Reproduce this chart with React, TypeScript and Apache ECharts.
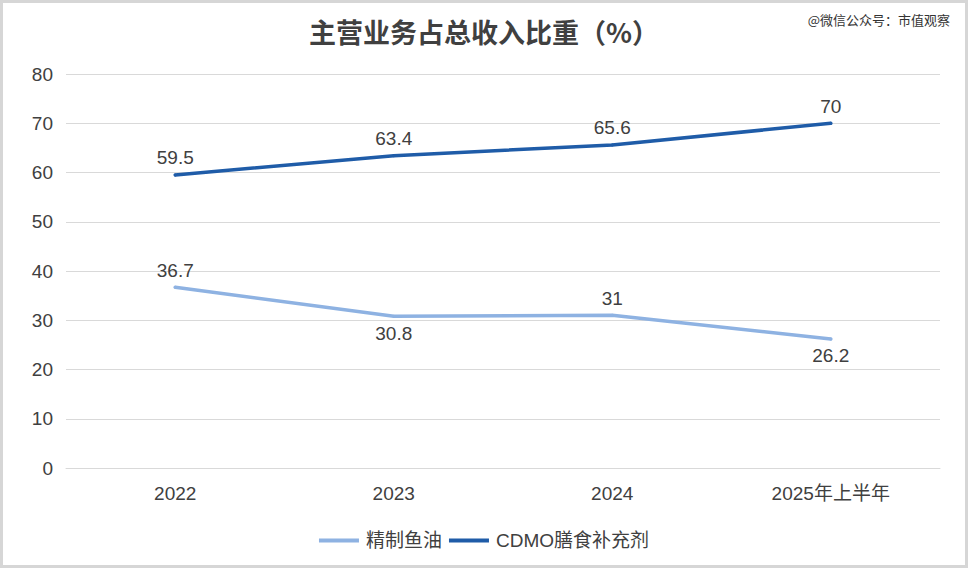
import React, { useEffect, useRef } from "react";
import * as echarts from "echarts";

const categories = ["2022", "2023", "2024", "2025年上半年"];
const fishOil = [36.7, 30.8, 31, 26.2];
const cdmo = [59.5, 63.4, 65.6, 70];
const fishOilLabelPos = ["top", "bottom", "top", "bottom"];
const yTicks = { min: 0, max: 80, interval: 10 };

export default function App() {
  const ref = useRef<HTMLDivElement>(null);
  useEffect(() => {
    if (!ref.current) return;
    const chart = echarts.init(ref.current, undefined, { renderer: "svg" });
    const font = "'Liberation Sans', 'Noto Sans CJK SC', sans-serif";
    const cjk = "'Noto Sans CJK SC', sans-serif";
    chart.setOption({
      animation: false,
      backgroundColor: "#ffffff",
      textStyle: { fontFamily: font },
      title: [
        {
          text: "主营业务占总收入比重（%）",
          left: "center",
          top: 10,
          textStyle: { fontSize: 27, fontWeight: "bold", color: "#404040", fontFamily: cjk },
        },
        {
          text: "@微信公众号：市值观察",
          right: 10,
          top: 5,
          textStyle: { fontSize: 13, fontWeight: "normal", color: "#333333", fontFamily: cjk },
        },
      ],
      grid: { left: 63, right: 25, top: 71, bottom: 97, containLabel: false },
      legend: {
        bottom: 10,
        left: "center",
        itemWidth: 40,
        itemHeight: 4,
        itemGap: 7,
        textStyle: { fontSize: 19, color: "#404040", fontFamily: font, padding: [0, 0, 0, 2] },
        icon: "rect",
        data: ["精制鱼油", "CDMO膳食补充剂"],
      },
      xAxis: {
        type: "category",
        data: categories,
        axisLine: { show: true, lineStyle: { color: "#d9d9d9", width: 1 } },
        axisTick: { show: false },
        axisLabel: { fontSize: 19, color: "#404040", margin: 16, fontFamily: font },
      },
      yAxis: {
        type: "value",
        min: yTicks.min,
        max: yTicks.max,
        interval: yTicks.interval,
        axisLine: { show: false },
        axisTick: { show: false },
        splitLine: { lineStyle: { color: "#d9d9d9", width: 1 } },
        axisLabel: { fontSize: 19, color: "#404040", margin: 13, fontFamily: font },
      },
      series: [
        {
          name: "精制鱼油",
          type: "line",
          data: fishOil.map((v, i) => ({
            value: v,
            label: { position: fishOilLabelPos[i] },
          })),
          color: "#8EB2E2",
          lineStyle: { width: 3.5, color: "#8EB2E2", cap: "round" },
          symbol: "circle",
          symbolSize: 3,
          showSymbol: true,
          itemStyle: { color: "#8EB2E2" },
          label: { show: true, fontSize: 19, color: "#404040", distance: 6, fontFamily: font },
        },
        {
          name: "CDMO膳食补充剂",
          type: "line",
          data: cdmo,
          color: "#1F5CA8",
          lineStyle: { width: 3.5, color: "#1F5CA8", cap: "round" },
          symbol: "circle",
          symbolSize: 3,
          showSymbol: true,
          itemStyle: { color: "#1F5CA8" },
          label: { show: true, position: "top", fontSize: 19, color: "#404040", distance: 6, fontFamily: font },
        },
      ],
    });
    return () => chart.dispose();
  }, []);
  return (
    <div
      ref={ref}
      style={{
        position: "absolute",
        left: 0,
        top: 0,
        width: 968,
        height: 568,
        boxSizing: "border-box",
        border: "3px solid #d6d6d6",
      }}
    />
  );
}
